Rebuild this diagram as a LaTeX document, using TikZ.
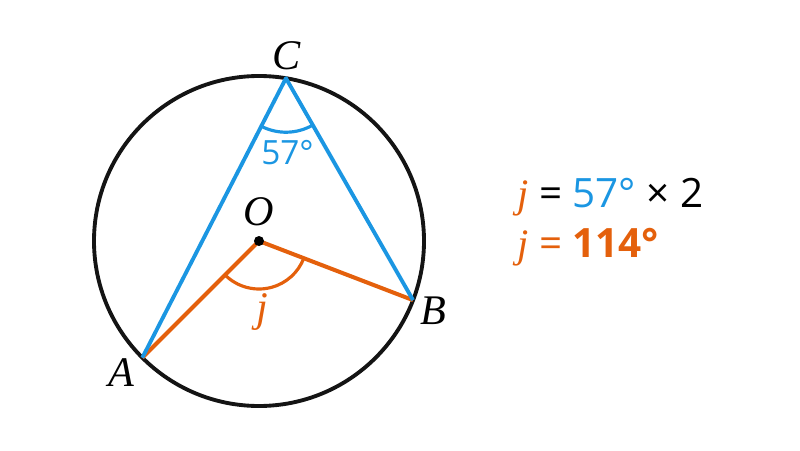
\documentclass[tikz,border=0pt]{standalone}
\usepackage{fontspec}
\setmainfont{Open Sans}
\newfontfamily\letterfont{Liberation Serif}
\usetikzlibrary{calc,positioning}

\definecolor{angleblue}{RGB}{27,150,226}
\definecolor{angleorange}{RGB}{228,96,12}
\definecolor{rimblack}{RGB}{20,20,20}

\tikzset{
  pointlabel/.style={font=\fontsize{24}{28}\selectfont\letterfont\itshape}
}

\begin{document}
\begin{tikzpicture}
\useasboundingbox (0,0) rectangle (16,9);

% Circle with centre O
\coordinate (O) at (5.18,4.18);
\draw[rimblack, line width=2.2pt] (O) circle (3.3);

% Points on the circle
\coordinate (C) at ($(O)+(80.6:3.3)$);
\coordinate (A) at ($(O)+(225:3.3)$);
\coordinate (B) at ($(O)+(339:3.3)$);

% Angle at the centre (orange)
\draw[angleorange, line width=2.3pt, line join=round] (A) -- (O) -- (B);
\draw[angleorange, line width=1.8pt] ($(O)+(225:0.96)$) arc (225:339:0.96);

% Angle at the circumference (blue)
\draw[angleblue, line width=2.2pt, line join=round] (A) -- (C) -- (B);
\draw[angleblue, line width=1.8pt] ($(C)+(242.8:1.08)$) arc (242.8:299.8:1.08);

% Centre point
\fill[black] (O) circle (0.1);

% Labels
\node[pointlabel] (lblC) at (5.74,7.88) {C};
\node[pointlabel] (lblO) at (5.18,4.76) {O};
\node[pointlabel] (lblA) at (2.42,1.54) {A};
\node[pointlabel] (lblB) at (8.66,2.78) {B};
\node[angleblue] (lblC57) at (5.75,5.95) {\fontsize{19}{23}\selectfont 57°};
\node[pointlabel, angleorange] (lblj) at (5.24,2.76) {j};

% Working
\node[anchor=base west, inner sep=0pt] (eqone) at (10.34,4.86)
  {\fontsize{23}{27}\selectfont\textcolor{angleorange}{\letterfont\itshape j} = \textcolor{angleblue}{57°} × 2};
\node[anchor=base west, inner sep=0pt, angleorange] (eqtwo) at (10.34,3.86)
  {\fontsize{23}{27}\selectfont{\letterfont\itshape j} = \textbf{114°}};
\end{tikzpicture}
\end{document}
